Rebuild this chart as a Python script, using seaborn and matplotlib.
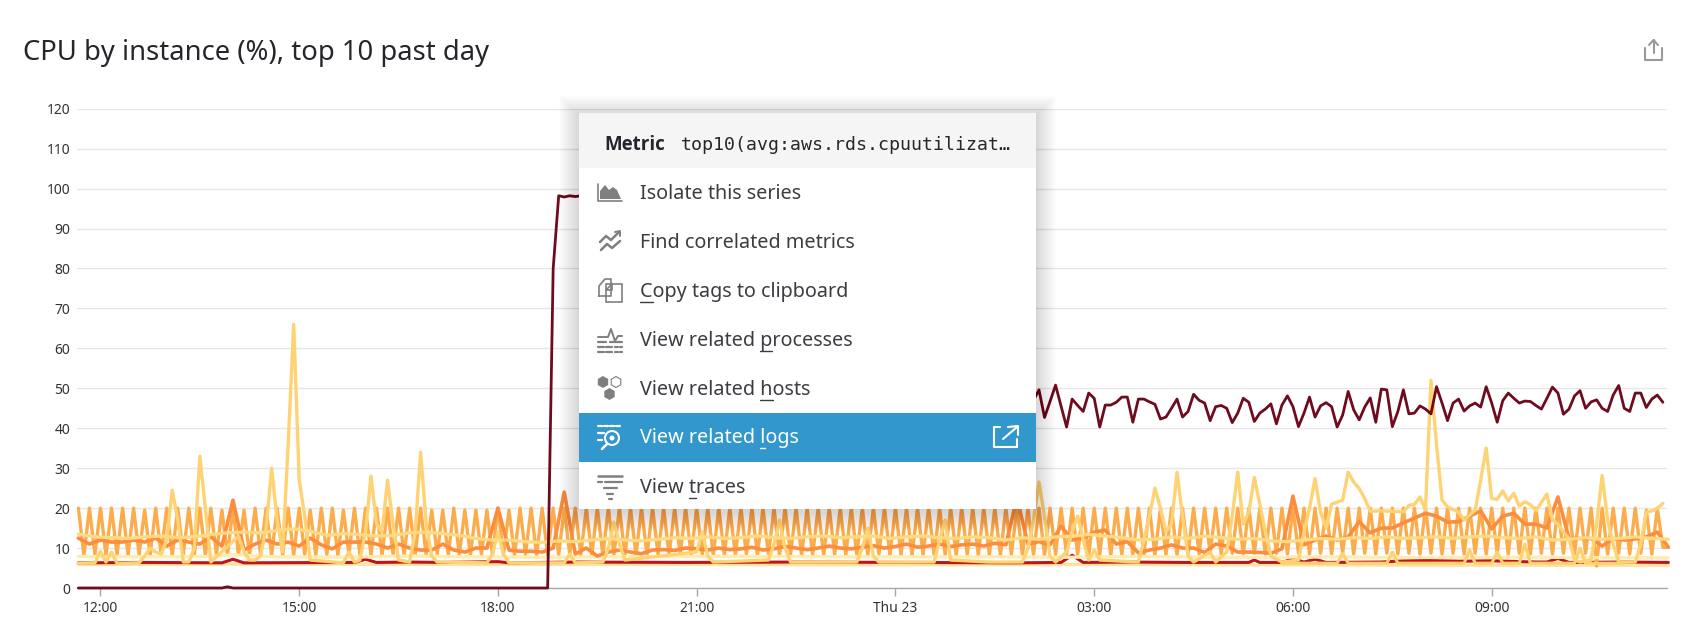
# CPU by instance chart, with the context menu that sits over it
import numpy as np
import pandas as pd
import seaborn as sns
from matplotlib import pyplot as plt
from matplotlib.patches import Rectangle, Polygon, RegularPolygon, Circle

sns.set_theme(style='white')
plt.rcParams['font.family'] = ['Noto Sans', 'DejaVu Sans']

# axis ticks
y_ticks = [0, 10, 20, 30, 40, 50, 60, 70, 80, 90, 100, 110, 120]
x_tick_steps = [4, 40, 76, 112, 148, 184, 220, 256]
x_tick_labels = ['12:00', '15:00', '18:00', '21:00', 'Thu 23', '03:00', '06:00', '09:00']

# all samples are numbered in 5 minute steps from 11:40
# sawtooth instance, one value per step
saw_vals = [
    20, 8.2, 20, 8.4, 20, 8.2, 20, 8.3, 20, 8.2, 20, 8.4, 19.5, 8.2, 20, 8.3, 20, 8.2, 20, 8.4,
    20, 8.3, 20, 8.2, 20, 8.4, 19.5, 8.2, 20, 8.3, 19.5, 8.2, 20, 8.4, 20, 8.2, 20, 8.3, 20, 8.2,
    20, 8.4, 19.5, 8.2, 20, 8.3, 20, 8.2, 19.5, 8.4, 20, 8.2, 20, 8.3, 20, 8.2, 20, 8.4, 20, 8.2,
    20, 8.3, 20, 8.2, 19.5, 8.4, 19.5, 8.2, 20, 8.3, 19.5, 8.2, 19.5, 8.4, 19.5, 8.2, 20, 8.3, 19.5, 8.2,
    20, 8.4, 20, 8.2, 20, 8.3, 20, 8.2, 20, 8.4, 20, 8.2, 20, 8.3, 20, 8.2, 20, 8.4, 20, 8.2,
    20, 8.3, 20, 8.2, 20, 8.4, 20, 8.2, 20, 8.3, 20, 8.2, 20, 8.4, 20, 8.2, 20, 8.3, 20, 8.2,
    20, 8.4, 20, 8.2, 20, 8.3, 20, 8.2, 20, 8.4, 20, 8.2, 20, 8.3, 20, 8.2, 20, 8.4, 20, 8.2,
    20, 8.3, 20, 8.2, 20, 8.4, 20, 8.2, 20, 8.3, 20, 8.2, 20, 8.4, 20, 8.2, 20, 8.3, 20, 8.2,
    20, 8.4, 20, 8.2, 20, 8.3, 20, 8.2, 20, 8.4, 20, 8.2, 20, 8.3, 20, 8.2, 20, 8.4, 20, 8.2,
    20, 8.3, 20, 8.2, 20, 8.4, 20, 8.2, 20, 8.3, 20, 8.2, 20, 8.4, 20, 8.2, 20, 8.3, 20, 8.2,
    20, 8.7, 20, 8.5, 20, 8.7, 20, 8.5, 20, 8.7, 20, 8.5, 20, 8.7, 20, 8.5, 20, 8.7, 20, 8.5,
    20, 8.7, 20, 8.5, 20, 8.7, 20, 8.5, 20, 8.7, 20, 8.5, 20, 8.7, 20, 8.5, 20, 8.7, 20, 8.5,
    20, 8.7, 20, 8.5, 20, 8.7, 20, 8.5, 20, 8.7, 20, 8.5, 20, 8.7, 20, 8.5, 20, 8.7, 20, 8.5,
    20, 8.7, 20, 8.5, 20, 8.7, 20, 8.5, 20, 8.7, 20, 8.5, 20, 8.7, 20, 5.5, 20, 8.5, 20, 8.7,
    20, 8.5, 20, 8.7, 19.5, 8.5, 20, 10.2, 10.2,
]

# orange instance, one value per 10 minutes
orange_vals = [
    12.5, 11, 12, 11.5, 11.5, 12, 11.5, 12.5, 10.5, 12,
    11.5, 11, 12.8, 10.5, 22, 9.5, 11, 12, 11, 11.5,
    10.5, 12.5, 10.8, 9.8, 11.5, 11.5, 11.5, 11, 10, 11,
    10, 9.5, 9.5, 11, 9.5, 9, 10, 10, 20, 9.5,
    9.2, 9.2, 9, 10, 24, 8.5, 10, 8, 9, 9.5,
    9, 8.6, 9.5, 9.6, 9.4, 10, 9.8, 9.5, 10, 9.6,
    9.8, 10.2, 9.5, 9.8, 10.4, 10, 9.6, 10, 10.5, 10,
    9.8, 10.2, 10.6, 10, 10.4, 11, 10.2, 10.5, 11, 10.4,
    10.8, 11, 10.5, 11.2, 10.8, 22.5, 11, 11.6, 10.8, 15.5,
    12, 12.5, 14, 14.5, 11, 11.6, 8.8, 9.5, 10, 10.8,
    10, 10, 8.9, 11, 10.5, 9, 9, 8.9, 8.7, 9.8,
    23, 10.8, 12, 13, 12, 12.8, 16.6, 13.8, 15, 15,
    16.3, 17.5, 18.7, 18, 16.5, 16.6, 18, 19.3, 14.8, 18,
    18.7, 16, 16, 15, 22.8, 12.4, 12.4, 12.4, 10.5, 12.4,
    12, 12.3, 12.8, 14, 10.2,
]

# pale yellow instance near 13, one value per 15 minutes
pale_vals = [
    13.5, 12.8, 12.6, 12.4, 12.8, 13, 12.6, 12.8, 13.4, 13.8, 14, 13.8,
    14.4, 14.8, 14.2, 13.2, 13.6, 13.4, 13, 13.2, 13.8, 14, 13.6, 13.2,
    12.4, 12, 12, 11.6, 11.4, 11.8, 11.6, 12, 12.4, 12, 11.8, 12.2,
    12.6, 12.4, 12.8, 12.4, 12.6, 13, 12.6, 12.4, 12.8, 13, 12.6, 12.8,
    13, 12.4, 12.8, 13, 12.6, 12.4, 12.8, 12.6, 12, 12.6, 12.2, 12.8,
    13, 13.4, 13, 12.6, 12, 12.2, 12.8, 12.4, 13, 12.6, 12.2, 12.4,
    11.8, 11.6, 12, 12.4, 12.2, 12.6, 12.4, 12.8, 12.4, 12.6, 12.8, 12.4,
    12.8, 13, 12.6, 12.4, 12.8, 12, 12.2, 12.6, 12.2, 12.4, 12.8, 12.4,
    12.2,
]

# spiky yellow instance
spiky_steps = [
    0, 3, 4, 5, 6, 7, 11, 12, 13, 14, 15, 16, 17, 18, 19, 20, 21, 22, 23, 24,
    29, 30, 31, 32, 33, 34, 35, 36, 37, 38, 39, 40, 41, 42, 48, 49, 50, 51, 52, 53,
    54, 55, 56, 57, 58, 60, 61, 62, 63, 64, 65, 74, 75, 76, 77, 78, 88, 89, 90, 95,
    96, 97, 98, 99, 112, 113, 114, 115, 125, 126, 127, 128, 129, 141, 142, 143, 144, 145, 155, 156,
    157, 158, 165, 171, 172, 173, 174, 175, 176, 177, 179, 180, 181, 182, 183, 184, 185, 192, 193, 194,
    195, 196, 197, 198, 199, 200, 201, 202, 205, 206, 208, 209, 210, 211, 212, 213, 214, 215, 216, 218,
    221, 222, 223, 224, 225, 226, 227, 228, 229, 230, 231, 232, 233, 234, 236, 238, 240, 241, 242, 243,
    244, 245, 246, 247, 248, 250, 251, 253, 254, 255, 256, 257, 258, 259, 260, 261, 262, 263, 264, 266,
    267, 268, 269, 270, 271, 272, 274, 275, 276, 277, 278, 279, 282, 283, 284, 285, 286, 287,
]
spiky_vals = [
    6.2, 6.3, 9.2, 6.5, 9, 6.2, 6.3, 8, 10, 9, 8.5, 12, 24.5, 17, 6.5, 6.5, 10, 33, 20, 6.5,
    13, 9, 7, 7, 8, 15, 30, 17, 9, 36, 66, 27, 18, 7, 6.3, 9, 6.5, 7, 14, 28,
    16, 14, 27, 16, 7, 6.5, 14, 34, 16, 8, 6.5, 6.3, 8.5, 14, 8.5, 6.3, 6.3, 8.5, 6.3, 6.5,
    10, 16.5, 11, 7, 9, 14, 8, 6.5, 7, 11, 17, 10, 6.5, 6.5, 10, 15, 8, 6.5, 6.5, 12,
    17, 7, 6.5, 6.5, 10, 17, 26.5, 18, 8, 6.5, 9, 14, 18, 12, 7, 9.5, 7, 6.5, 12, 18,
    25, 20, 14, 16, 29, 18, 8, 6.5, 9, 6.5, 9, 18, 29, 16, 19, 27.7, 21, 14, 8, 6.5,
    7, 14, 20, 27.4, 19, 15, 21, 21.5, 22, 29, 26.5, 24.9, 22.4, 19.2, 19.3, 19.2, 19.1, 20.7, 20.9, 22.8,
    19.5, 52, 36, 22, 20.3, 19, 17, 19.5, 27, 35, 22.4, 22.2, 24.3, 21.8, 23.7, 20.5, 21.6, 20.9, 19.3, 23.5,
    17, 16, 14, 12.4, 7, 6.5, 7, 16, 28.2, 17, 11, 6.5, 6.5, 11, 19, 19.3, 19.9, 21.2,
]

# low amber instance, only seen when it bumps up
amber_steps = [218, 228, 229, 230, 237, 238, 239, 251, 252, 253, 256, 257, 258, 261, 262, 263, 271, 272, 273, 280]
amber_vals = [6.2, 6.2, 8.7, 6.2, 6.2, 9, 6.2, 6.2, 9.5, 6.2, 6.2, 9, 6.2, 6.2, 11, 6.2, 6.2, 10, 6.2, 6.2]

# flat instances
cream_steps = [0, 12, 24, 28, 36, 48, 60, 72, 84, 96, 120, 144, 168, 180, 192, 204, 216, 228, 240, 252, 264, 276, 288]
cream_vals = [7.9, 7.8, 7.9, 8.3, 7.8, 7.7, 8, 7.8, 7.7, 7.8, 7.9, 7.8, 7.8, 7.7, 7.9, 7.7, 7.7, 7.8, 7.6, 7.7, 7.7, 7.6, 7.6]

sand_steps = [0, 36, 72, 108, 144, 180, 216, 252, 288]
sand_vals = [5.9, 6, 5.9, 5.9, 5.8, 5.9, 5.8, 5.7, 5.7]

red_steps = [
    0, 12, 26, 28, 30, 50, 52, 54, 60, 66, 76, 78, 90, 110, 130, 150, 170, 178, 180, 182,
    190, 200, 212, 213, 214, 218, 220, 222, 224, 226, 236, 240, 244, 250, 256, 264, 266, 268, 270, 280, 288,
]
red_vals = [
    6.3, 6.4, 6.3, 7.2, 6.3, 6.4, 7.2, 6.4, 6.5, 6.4, 6.6, 6.3, 6.5, 6.4, 6.5, 6.4, 6.3, 6.4, 8.2, 6.4,
    6.5, 6.4, 6.4, 7, 6.4, 6.4, 7.3, 6.5, 7.2, 6.4, 6.5, 6.8, 6.9, 6.7, 6.8, 6.5, 6.5, 7.4, 6.4, 6.5, 6.4,
]

# the instance that jumps to 98, the stretch behind the menu cannot be read
maroon_steps = [0, 26, 27, 28, 85, 86, 87, 88, 89, 90, 91] + list(range(173, 288))
maroon_vals = [
    0, 0, 0.3, 0, 0, 80, 98.2, 97.9, 98.2, 98, 98.2,
    47, 49.6, 42.7, 46.7, 50.8, 45.5, 40.3, 47.3, 45.7, 44.2, 48.8, 47.5, 40.3, 45.8, 45.8, 46.5, 47.8, 47.8, 41.5, 47.3,
    47.3, 46.6, 46, 42.3, 42.8, 45, 47.3, 42.8, 44.2, 48.5, 47, 46.3, 41.9, 45.4, 45.7, 45, 41.4, 43.8, 47.5, 46.5,
    41.7, 43.8, 44.8, 46.1, 41.1, 45.8, 48.1, 45.4, 40.4, 43.8, 47.8, 42.8, 45.6, 46.4, 45.4, 40.3, 43.3, 49.2, 44.6, 42.1,
    45.3, 47.6, 41.5, 49.8, 49.6, 40.4, 44.2, 49.6, 43.6, 43.8, 45.6, 44.8, 43.6, 50.4, 46.3, 41.9, 46.3, 47.3, 44.3,
    45.6, 46.3, 45.3, 50.4, 46.3, 41.5, 46.9, 48.8, 47.5, 46.3, 46.8, 46.7, 45.7, 44.8, 47.5, 50.3, 48.8, 43.5, 44.8, 48.1,
    49.4, 45, 46.6, 47.1, 45, 44.2, 48.3, 50.7, 45, 44.2, 48.8, 48.8, 45.2, 47.3, 48.3, 46.5,
]

# menu text
menu_labels = ['Isolate this series', 'Find correlated metrics', 'Copy tags to clipboard',
               'View related processes', 'View related hosts', 'View related logs', 'View traces']
underlined = [None, None, 0, 13, 13, 13, 5]
chart_title = 'CPU by instance (%), top 10 past day'
metric_query = 'top10(avg:aws.rds.cpuutilizat…'


def series(name, steps, vals):
    return pd.DataFrame({'series': name, 'step': steps, 'value': vals})


saw = series('saw', list(range(len(saw_vals))), saw_vals)
orange = series('orange', list(range(0, 2 * len(orange_vals), 2)), orange_vals)
pale = series('pale', list(range(0, 3 * len(pale_vals), 3)), pale_vals)
spiky = series('spiky', spiky_steps, spiky_vals)
amber = series('amber', amber_steps, amber_vals)
cream = series('cream', cream_steps, cream_vals)
sand = series('sand', sand_steps, sand_vals)
red = series('red', red_steps, red_vals)
maroon = series('maroon', maroon_steps, maroon_vals)

W, H = 1694, 625
fig = plt.figure(figsize=(W / 100, H / 100), dpi=100, facecolor='white')
ax = fig.add_axes([77 / W, 1 - 588 / H, (1667 - 77) / W, (588 - 108.7) / H])

# drawn bottom to top
draw_order = [
    (sand, '#fde3a0', 2.4), (red, '#c4121a', 2.2), (saw, '#fdac4c', 2.4), (cream, '#feecb0', 2.4),
    (amber, '#fdd26e', 2.3), (orange, '#fb8d3c', 2.6), (spiky, '#fed373', 2.4), (pale, '#fedb82', 2.4),
    (maroon, '#6e0b1f', 2.0),
]
for df, colour, lw in draw_order:
    sns.lineplot(data=df, x='step', y='value', color=colour, linewidth=lw,
                 estimator=None, legend=False, ax=ax, clip_on=False, zorder=3)

ax.set_xlim(-0.25, 287.75)
ax.set_ylim(0, 120)
ax.set_xlabel('')
ax.set_ylabel('')
ax.set_yticks(y_ticks)
ax.set_xticks(x_tick_steps)
ax.set_xticklabels(x_tick_labels)
ax.grid(axis='y', color='#e7e7e9', linewidth=1)
ax.set_axisbelow(True)
for side in ['top', 'left', 'right']:
    ax.spines[side].set_visible(False)
ax.spines['bottom'].set_color('#a8a8a8')
ax.spines['bottom'].set_linewidth(1)
ax.tick_params(axis='x', length=6, width=1, color='#a8a8a8', labelsize=10, labelcolor='#333333', pad=3, bottom=True)
ax.tick_params(axis='y', length=0, labelsize=10, labelcolor='#333333', pad=5)

# overlay in pixel coordinates for title, share icon and menu
ov = fig.add_axes([0, 0, 1, 1], zorder=5)
ov.set_xlim(0, W)
ov.set_ylim(H, 0)
ov.axis('off')
ov.patch.set_alpha(0)

ov.text(23, 53, chart_title, fontsize=19.75, color='#24262b', va='center', ha='left')

# share icon
grey = '#9a9a9a'
ov.plot([1645, 1645, 1662, 1662], [48, 60, 60, 48], color=grey, lw=1.5)
ov.plot([1653.5, 1653.5], [53, 40], color=grey, lw=1.5)
ov.plot([1649, 1653.5, 1658], [45, 40, 45], color=grey, lw=1.5)

# menu body
left, right, top, bottom = 579, 1036, 113, 509
for i in range(1, 21):
    ov.add_patch(Rectangle((left - i, top - i + 3), right - left + 2 * i, bottom - top + 2 * i,
                           color='black', alpha=0.006, lw=0))
ov.add_patch(Rectangle((left, top), right - left, bottom - top, color='white', lw=0))
ov.add_patch(Rectangle((left, top), right - left, 55, color='#f5f5f5', lw=0))
ov.add_patch(Rectangle((left, 413), right - left, 48.5, color='#3297cd', lw=0))

ov.text(604, 145, 'Metric', fontsize=13.5, fontweight='bold', family=['Open Sans'], color='#24262b', va='center')
ov.text(681, 145, metric_query, fontsize=13.15, family=['DejaVu Sans Mono'], color='#24262b', va='center')

row_y = [193, 242, 291, 340, 389, 437, 487]
fig.canvas.draw()
rend = fig.canvas.get_renderer()
for label, under, y in zip(menu_labels, underlined, row_y):
    colour = 'white' if y == 437 else '#3b3d42'
    ov.text(640, y + 1, label, fontsize=14.27, color=colour, va='center')
    if under is not None:
        probe = ov.text(0, 0, label[:under], fontsize=14.27)
        x0 = 640 + (probe.get_window_extent(rend).width if under else 0)
        probe.set_text(label[:under + 1])
        x1 = 640 + probe.get_window_extent(rend).width
        probe.remove()
        ov.plot([x0, x1], [y + 11, y + 11], color=colour, lw=1)

# menu icons
ig = '#7f7f82'
ov.plot([598, 598, 622], [184, 201, 201], color=ig, lw=1.2)
ov.add_patch(Polygon([(600, 199), (600, 191), (605, 185), (609, 190), (613, 187), (617, 190), (621, 199)], color=ig, lw=0))
ov.plot([600, 606, 611, 619], [242, 236, 240, 232], color=ig, lw=1.8)
ov.plot([601, 607, 612, 620], [250, 244, 248, 241], color=ig, lw=1.8)
ov.plot([615, 620, 620], [232, 231, 236], color=ig, lw=1.4)
ov.plot([599, 599, 605, 611, 611, 599], [296, 286, 279, 279, 296, 296], color=ig, lw=1.2)
ov.add_patch(Rectangle((606, 284), 16, 18, fill=True, facecolor='white', edgecolor=ig, lw=1.2))
ov.plot([612, 606, 612, 612], [284, 290, 290, 284], color=ig, lw=1.2)
ov.plot([598, 608, 611, 615, 618, 622], [337, 337, 329, 341, 336, 336], color=ig, lw=1.4)
for yy, xs in [(342, [(598, 606), (610, 622)]), (347, [(598, 604), (606, 612), (615, 618), (620, 622)]), (352, [(598, 604), (606, 612), (615, 618), (620, 622)])]:
    for a, b in xs:
        ov.plot([a, b], [yy, yy], color=ig, lw=1.6)
ov.add_patch(RegularPolygon((603, 382), 6, radius=6, color=ig, lw=0))
ov.add_patch(RegularPolygon((616, 382), 6, radius=5.5, facecolor='white', edgecolor=ig, lw=0.8))
ov.add_patch(RegularPolygon((609.5, 394), 6, radius=6, color=ig, lw=0))
for a, b in [(598, 602), (604, 608), (610, 614), (616, 620)]:
    ov.plot([a, b], [426, 426], color='white', lw=1.6)
ov.plot([598, 604], [433, 433], color='white', lw=1.6)
ov.plot([598, 602], [440, 440], color='white', lw=1.6)
ov.add_patch(Circle((612, 438), 7, fill=False, edgecolor='white', lw=1.5))
ov.add_patch(Circle((612, 438), 2.5, color='white', lw=0))
ov.plot([607, 602], [444, 449], color='white', lw=1.8)
ov.plot([1000, 994, 994, 1017, 1017], [427, 427, 447, 447, 439], color='white', lw=1.5)
ov.plot([1003, 1017], [439, 427], color='white', lw=1.5)
ov.plot([1008, 1018, 1018], [427, 426, 435], color='white', lw=1.5)
ov.plot([598, 622], [476, 476], color=ig, lw=1.8)
ov.plot([598, 602], [482, 482], color=ig, lw=1.6)
ov.plot([605, 622], [482, 482], color=ig, lw=1.6)
ov.plot([604, 617], [488, 488], color=ig, lw=1.6)
ov.plot([607, 613], [494, 494], color=ig, lw=1.6)
ov.plot([609, 612], [499, 499], color=ig, lw=1.6)

plt.savefig('out.png', dpi=100)
